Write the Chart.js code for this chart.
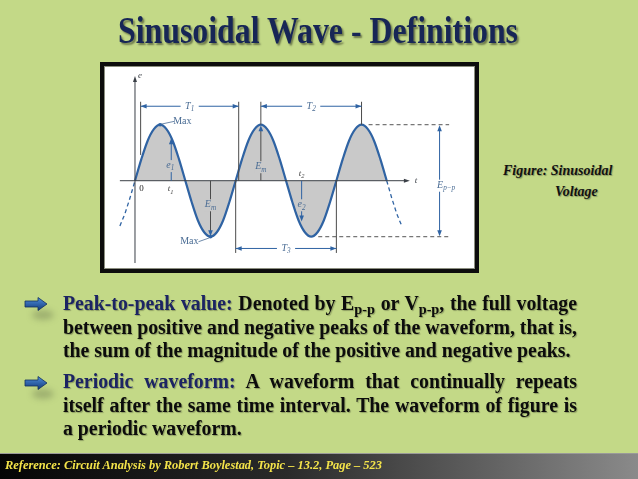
<!DOCTYPE html>
<html>
<head>
<meta charset="utf-8">
<script src="https://cdn.jsdelivr.net/npm/chart.js@4.4.0/dist/chart.umd.min.js"></script>
<style>
  html, body { margin: 0; padding: 0; }
  body { width: 638px; height: 479px; position: relative; overflow: hidden; background: #c3d987; font-family: 'Liberation Serif', serif; }
  .abs { position: absolute; white-space: nowrap; }
  .fit { display: inline-block; transform-origin: 0 0; }
  #title { left: 118px; top: 11px; font-size: 38px; line-height: 38px; font-weight: bold; color: #172656; text-shadow: 2px 2px 2px rgba(0,0,0,0.45); }
  #frame { left: 100px; top: 62px; width: 379px; height: 211px; background: #0d0d0d; }
  #frame2 { left: 104px; top: 66px; width: 369px; height: 201px; background: #fff; border: 1px solid #8c8f80; }
  #chartBox { left: 107px; top: 69px; width: 366px; height: 198px; }
  .cap { font-size: 14px; line-height: 14px; font-weight: bold; font-style: italic; color: #111; text-shadow: 1px 1px 1px rgba(0,0,0,0.3); }
  .bl { left: 63px; font-size: 20px; line-height: 20px; font-weight: bold; color: #0c0c0c; text-shadow: 1px 1px 1px rgba(0,0,0,0.28); }
  .bl b { color: #1c2463; }
  .bl sub { font-size: 0.72em; vertical-align: -0.28em; line-height: 0; }
  .arrow { left: 24px; width: 24px; height: 14px; }
  .shadow { width: 22px; height: 10px; border-radius: 50%; background: rgba(90,100,70,0.35); filter: blur(3px); }
  #footer { left: 0; top: 453px; width: 638px; height: 26px; background: linear-gradient(to right, #050505 0%, #2a2a2a 45%, #8a8a8a 100%); border-top: 1px solid #9a9a9a; }
  #ref { left: 5px; top: 459px; font-size: 12.5px; line-height: 12.5px; font-weight: bold; font-style: italic; color: #f4e44a; }
</style>
</head>
<body>
<div id="title" class="abs"><span class="fit" data-w="400">Sinusoidal Wave - Definitions</span></div>

<div id="frame" class="abs"></div>
<div id="frame2" class="abs"></div>
<div id="chartBox" class="abs"><canvas id="wave" width="366" height="198"></canvas></div>

<div class="abs cap" style="left:503px;top:164px;">Figure: Sinusoidal</div>
<div class="abs cap" style="left:555px;top:185px;">Voltage</div>

<div class="abs shadow" style="left:32px;top:310px;"></div>
<svg class="abs arrow" style="top:297px;" viewBox="0 0 24 14">
  <defs><linearGradient id="ag" x1="0" y1="0" x2="0" y2="1"><stop offset="0" stop-color="#4f8fdc"/><stop offset="1" stop-color="#123a7a"/></linearGradient></defs>
  <path d="M1 4 H14 V0.5 L23 7 L14 13.5 V10 H1 Z" fill="url(#ag)" stroke="#12305e" stroke-width="0.8"/>
</svg>
<div class="abs shadow" style="left:32px;top:389px;"></div>
<svg class="abs arrow" style="top:376px;" viewBox="0 0 24 14">
  <path d="M1 4 H14 V0.5 L23 7 L14 13.5 V10 H1 Z" fill="url(#ag)" stroke="#12305e" stroke-width="0.8"/>
</svg>

<div class="abs bl j" style="top:293px;"><span class="fit"><b>Peak-to-peak value:</b> Denoted by E<sub>p-p</sub> or V<sub>p-p</sub>, the full voltage</span></div>
<div class="abs bl j" style="top:317px;"><span class="fit">between positive and negative peaks of the waveform, that is,</span></div>
<div class="abs bl" style="top:340px;"><span class="fit">the sum of the magnitude of the positive and negative peaks.</span></div>
<div class="abs bl j" style="top:371px;"><span class="fit"><b>Periodic waveform:</b> A waveform that continually repeats</span></div>
<div class="abs bl j" style="top:395px;"><span class="fit">itself after the same time interval. The waveform of figure is</span></div>
<div class="abs bl" style="top:418px;"><span class="fit">a periodic waveform.</span></div>

<div id="footer" class="abs"></div>
<div id="ref" class="abs"><span class="fit" data-w="377">Reference: Circuit Analysis by Robert Boylestad, Topic – 13.2, Page – 523</span></div>

<script>
// time in periods (T), e in units of the peak value Em
const waveT = [0, 0.0625, 0.125, 0.1875, 0.25, 0.3125, 0.375, 0.4375, 0.5, 0.5625, 0.625, 0.6875, 0.75, 0.8125, 0.875, 0.9375,
               1, 1.0625, 1.125, 1.1875, 1.25, 1.3125, 1.375, 1.4375, 1.5, 1.5625, 1.625, 1.6875, 1.75, 1.8125, 1.875, 1.9375,
               2, 2.0625, 2.125, 2.1875, 2.25, 2.3125, 2.375, 2.4375, 2.5];
const waveE = [0, 0.38, 0.71, 0.92, 1, 0.92, 0.71, 0.38, 0, -0.38, -0.71, -0.92, -1, -0.92, -0.71, -0.38,
               0, 0.38, 0.71, 0.92, 1, 0.92, 0.71, 0.38, 0, -0.38, -0.71, -0.92, -1, -0.92, -0.71, -0.38,
               0, 0.38, 0.71, 0.92, 1, 0.92, 0.71, 0.38, 0];
// dashed continuation before 0 and after the last crossing
const leadT = [-0.15, -0.1, -0.05, 0];
const leadE = [-0.81, -0.59, -0.31, 0];
const tailT = [2.5, 2.55, 2.6, 2.65];
const tailE = [0, -0.31, -0.59, -0.81];

const pts = (ts, es) => ts.map((t, i) => ({ x: t, y: es[i] }));

// fit slide text to the widths in the picture
document.querySelectorAll('.fit[data-w]').forEach(s => {
    const w = s.getBoundingClientRect().width;
    s.style.transform = `scaleX(${s.dataset.w / w})`;
});
const bodyLines = [...document.querySelectorAll('.bl .fit')];
const bodyW = bodyLines.map(s => s.getBoundingClientRect().width);
let sc = 1;
bodyLines.forEach((s, i) => { if (s.parentNode.classList.contains('j')) sc = Math.min(sc, 514 / bodyW[i]); });
bodyLines.forEach((s, i) => {
    s.style.transform = `scaleX(${sc})`;
    if (s.parentNode.classList.contains('j')) {
        const n = (s.textContent.match(/ /g) || []).length;
        s.style.wordSpacing = ((514 / sc - bodyW[i]) / n) + 'px';
    }
});

const blue = '#2f63a3';
const labelBlue = '#4a6c94';
const grey = '#c9c9c9';

const figureMarks = {
    id: 'figureMarks',
    afterDatasetsDraw(chart) {
        const ctx = chart.ctx;
        const xs = chart.scales.x, ys = chart.scales.y;
        const X = v => xs.getPixelForValue(v);
        const Y = v => ys.getPixelForValue(v);

        const seg = (x1, y1, x2, y2, color, w, dash) => {
            ctx.save();
            ctx.strokeStyle = color; ctx.lineWidth = w || 1;
            ctx.setLineDash(dash || []);
            ctx.beginPath(); ctx.moveTo(X(x1), Y(y1)); ctx.lineTo(X(x2), Y(y2)); ctx.stroke();
            ctx.restore();
        };
        const head = (x, y, ang, color, len, half) => {
            len = len || 6; half = half || 2.3;
            const px = X(x), py = Y(y);
            ctx.save();
            ctx.translate(px, py); ctx.rotate(ang);
            ctx.fillStyle = color;
            ctx.beginPath(); ctx.moveTo(0, 0); ctx.lineTo(-len, -half); ctx.lineTo(-len, half); ctx.closePath(); ctx.fill();
            ctx.restore();
        };
        const label = (x, y, main, sub, color, bg, size, italic) => {
            size = size || 10;
            const mainFont = `${italic === false ? '' : 'italic '}${size}px 'Liberation Serif', serif`;
            const subFont = `italic ${size * 0.72}px 'Liberation Serif', serif`;
            ctx.save();
            ctx.font = mainFont; const w1 = ctx.measureText(main).width;
            ctx.font = subFont; const w2 = sub ? ctx.measureText(sub).width : 0;
            const w = w1 + w2;
            const px = X(x) - w / 2, py = Y(y);
            if (bg) { ctx.fillStyle = bg; ctx.fillRect(px - 1, py - size * 0.55, w + 2, size * 1.2); }
            ctx.fillStyle = color; ctx.textBaseline = 'middle';
            ctx.font = mainFont; ctx.fillText(main, px, py);
            if (sub) { ctx.font = subFont; ctx.fillText(sub, px + w1, py + size * 0.3); }
            ctx.restore();
        };
        const dim = (xa, xb, y, main, sub) => {
            const mid = (xa + xb) / 2, gap = 0.09;
            seg(xa, y, mid - gap, y, blue, 1);
            seg(mid + gap, y, xb, y, blue, 1);
            head(xa, y, Math.PI, blue);
            head(xb, y, 0, blue);
            label(mid, y, main, sub, labelBlue, null, 10);
        };

        // axes
        const axisCol = '#3a3f46';
        seg(0, -1.47, 0, 1.8, axisCol, 1);
        head(0, 1.87, -Math.PI / 2, axisCol, 6, 2);
        seg(-0.15, 0, 2.68, 0, axisCol, 1);
        head(2.73, 0, 0, axisCol, 6, 2);
        label(0.05, 1.87, 'e', null, axisCol, null, 9);
        label(2.79, 0, 't', null, axisCol, null, 9);
        label(0.065, -0.14, '0', null, '#222', null, 9, false);

        // period brackets
        const tick = '#4b4b4b';
        seg(0.056, 1.41, 0.056, 0.46, tick, 1);
        seg(1.03, 1.41, 1.03, 0, tick, 1);
        dim(0.056, 1.03, 1.33, 'T', '1');
        seg(1.25, 1.41, 1.25, 1.0, tick, 1);
        seg(2.25, 1.41, 2.25, 1.0, tick, 1);
        dim(1.25, 2.25, 1.33, 'T', '2');
        seg(1.0, 0, 1.0, -1.29, tick, 1);
        seg(2.0, 0, 2.0, -1.29, tick, 1);
        dim(1.0, 2.0, -1.21, 'T', '3');

        // Max markers
        ctx.save(); ctx.fillStyle = blue;
        [[0.25, 1], [0.75, -1]].forEach(([x, y]) => { ctx.beginPath(); ctx.arc(X(x), Y(y), 1.8, 0, Math.PI * 2); ctx.fill(); });
        ctx.restore();
        seg(0.26, 1.01, 0.39, 1.06, labelBlue, 0.8);
        label(0.47, 1.06, 'Max', null, labelBlue, null, 10, false);
        seg(0.63, -1.09, 0.74, -1.02, labelBlue, 0.8);
        label(0.54, -1.09, 'Max', null, labelBlue, null, 10, false);

        // instantaneous values and peaks
        seg(0.36, 0, 0.36, 0.7, blue, 1); head(0.36, 0.76, -Math.PI / 2, blue);
        label(0.35, 0.27, 'e', '1', labelBlue, grey, 10);
        label(0.355, -0.15, 't', '1', '#444', null, 9);
        seg(0.75, 0, 0.75, -0.9, tick, 1); head(0.75, -0.99, Math.PI / 2, blue);
        label(0.75, -0.43, 'E', 'm', labelBlue, grey, 10);
        seg(1.25, 0, 1.25, 0.9, tick, 1); head(1.25, 0.99, -Math.PI / 2, blue);
        label(1.25, 0.25, 'E', 'm', labelBlue, grey, 10);
        label(1.655, 0.13, 't', '2', '#444', null, 9);
        seg(1.655, 0, 1.655, -0.67, blue, 1); head(1.655, -0.73, Math.PI / 2, blue);
        label(1.655, -0.43, 'e', '2', labelBlue, grey, 10);

        // peak-to-peak
        seg(2.32, 1, 3.12, 1, '#555', 1, [4, 3]);
        seg(1.82, -1, 3.12, -1, '#555', 1, [4, 3]);
        seg(3.025, 0.93, 3.025, -0.93, blue, 1);
        head(3.025, 0.99, -Math.PI / 2, blue);
        head(3.025, -0.99, Math.PI / 2, blue);
        label(3.09, -0.08, 'E', 'p\u2212p', labelBlue, '#fff', 10);
    }
};

new Chart(document.getElementById('wave'), {
    type: 'line',
    data: {
        datasets: [
            {
                data: pts(waveT, waveE),
                borderColor: blue,
                borderWidth: 2.2,
                backgroundColor: grey,
                fill: 'origin',
                pointRadius: 0,
                cubicInterpolationMode: 'monotone'
            },
            {
                data: pts(leadT, leadE),
                borderColor: blue,
                borderWidth: 1.3,
                borderDash: [4, 3],
                fill: false,
                pointRadius: 0
            },
            {
                data: pts(tailT, tailE),
                borderColor: blue,
                borderWidth: 1.3,
                borderDash: [4, 3],
                fill: false,
                pointRadius: 0
            }
        ]
    },
    options: {
        responsive: false,
        animation: false,
        events: [],
        layout: { padding: 0 },
        scales: {
            x: { type: 'linear', min: -0.278, max: 3.357, display: false },
            y: { type: 'linear', min: -1.541, max: 1.995, display: false }
        },
        plugins: { legend: { display: false }, tooltip: { enabled: false } }
    },
    plugins: [figureMarks]
});
</script>
</body>
</html>
